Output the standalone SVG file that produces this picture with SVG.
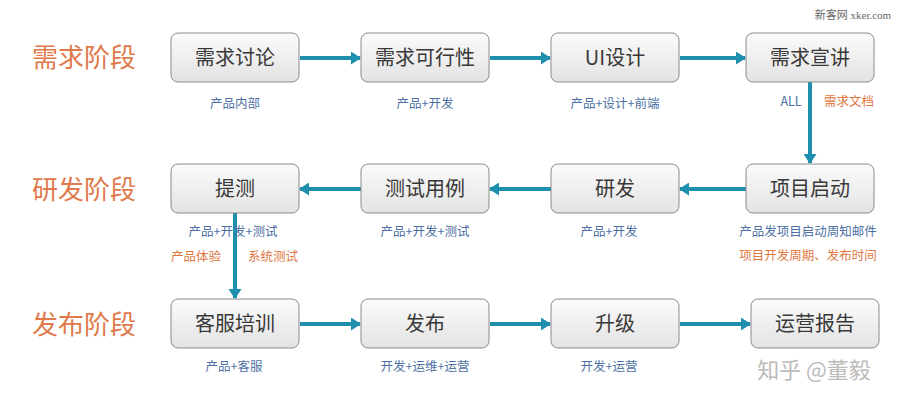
<svg xmlns="http://www.w3.org/2000/svg" width="914" height="409" viewBox="0 0 914 409">
<defs>
<linearGradient id="g" x1="0" y1="0" x2="0" y2="1">
<stop offset="0" stop-color="#fbfbfb"/>
<stop offset="1" stop-color="#e3e3e3"/>
</linearGradient>
<marker id="ah" viewBox="0 0 10 13" refX="9" refY="6.5" markerWidth="10" markerHeight="13" markerUnits="userSpaceOnUse" orient="auto">
<path d="M0,0 L10,6.5 L0,13 Z" fill="#1f8fae"/>
</marker>
<style>
text{font-family:"Noto Sans CJK SC","Liberation Sans",sans-serif;text-anchor:middle}
.box{fill:url(#g);stroke:#8a8a8a;stroke-width:1}
.bt{font-size:20px;fill:#383838}
.stage{font-size:26px;fill:#e07a4c}
.sub{font-size:12.5px;fill:#4d6fa3}
.or{font-size:12.5px;fill:#e0773f}
.c{stroke:#1f8fae;stroke-width:4;fill:none;marker-end:url(#ah)}
</style>
</defs>
<rect width="914" height="409" fill="#fff"/>
<text x="853" y="19" style="font-family:'Liberation Serif','Noto Sans CJK SC',serif;font-size:11px;fill:#666">新客网 xker.com</text>
<g id="stages">
<text class="stage" x="84" y="67">需求阶段</text>
<text class="stage" x="84" y="199">研发阶段</text>
<text class="stage" x="84" y="334">发布阶段</text>
</g>
<g id="connectors">
<line class="c" x1="300" y1="58" x2="360" y2="58"/>
<line class="c" x1="490" y1="58" x2="550" y2="58"/>
<line class="c" x1="680" y1="58" x2="745" y2="58"/>
<line class="c" x1="810" y1="82" x2="810" y2="163"/>
<line class="c" x1="746" y1="189" x2="680" y2="189"/>
<line class="c" x1="551" y1="189" x2="490" y2="189"/>
<line class="c" x1="361" y1="189" x2="300" y2="189"/>
<line class="c" x1="235" y1="213" x2="235" y2="298"/>
<line class="c" x1="300" y1="324" x2="360" y2="324"/>
<line class="c" x1="490" y1="324" x2="550" y2="324"/>
<line class="c" x1="680" y1="324" x2="750" y2="324"/>
</g>
<g id="n1"><rect class="box" x="171" y="33" width="128" height="49" rx="7"/><text class="bt" x="235" y="65">需求讨论</text><text class="sub" x="235" y="108">产品内部</text></g>
<g id="n2"><rect class="box" x="361" y="33" width="128" height="49" rx="7"/><text class="bt" x="425" y="65">需求可行性</text><text class="sub" x="425" y="108">产品+开发</text></g>
<g id="n3"><rect class="box" x="551" y="33" width="128" height="49" rx="7"/><text class="bt" x="615" y="65">UI设计</text><text class="sub" x="615" y="108">产品+设计+前端</text></g>
<g id="n4"><rect class="box" x="746" y="33" width="128" height="49" rx="7"/><text class="bt" x="810" y="65">需求宣讲</text><text class="sub" x="791" y="106">ALL</text><text class="or" x="849" y="106">需求文档</text></g>
<g id="n5"><rect class="box" x="746" y="164" width="128" height="49" rx="7"/><text class="bt" x="810" y="196">项目启动</text><text class="sub" x="808" y="236">产品发项目启动周知邮件</text><text class="or" x="808" y="260">项目开发周期、发布时间</text></g>
<g id="n6"><rect class="box" x="551" y="164" width="128" height="49" rx="7"/><text class="bt" x="615" y="196">研发</text><text class="sub" x="609" y="236">产品+开发</text></g>
<g id="n7"><rect class="box" x="361" y="164" width="128" height="49" rx="7"/><text class="bt" x="425" y="196">测试用例</text><text class="sub" x="425" y="236">产品+开发+测试</text></g>
<g id="n8"><rect class="box" x="171" y="164" width="128" height="49" rx="7"/><text class="bt" x="235" y="196">提测</text><text class="sub" x="233" y="236">产品+开发+测试</text><text class="or" x="196" y="261">产品体验</text><text class="or" x="273" y="261">系统测试</text></g>
<g id="n9"><rect class="box" x="171" y="299" width="128" height="49" rx="7"/><text class="bt" x="235" y="331">客服培训</text><text class="sub" x="234" y="371">产品+客服</text></g>
<g id="n10"><rect class="box" x="361" y="299" width="128" height="49" rx="7"/><text class="bt" x="425" y="331">发布</text><text class="sub" x="425" y="371">开发+运维+运营</text></g>
<g id="n11"><rect class="box" x="551" y="299" width="128" height="49" rx="7"/><text class="bt" x="615" y="331">升级</text><text class="sub" x="609" y="371">开发+运营</text></g>
<g id="n12"><rect class="box" x="751" y="299" width="128" height="49" rx="7"/><text class="bt" x="815" y="331">运营报告</text></g>
<text x="814" y="378" style="font-size:22px;fill:#bbb;stroke:#fff;stroke-width:1.5;paint-order:stroke">知乎 @董毅</text>
</svg>
